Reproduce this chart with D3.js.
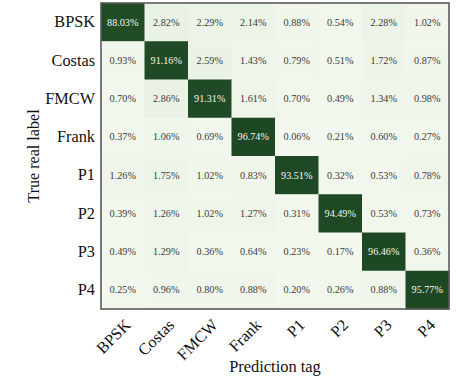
<!DOCTYPE html>
<html><head><meta charset="utf-8">
<script src="https://cdn.jsdelivr.net/npm/d3@7"></script>
<style>body{margin:0;background:#fff;}svg{display:block;} svg text{font-family:'Liberation Serif','Times New Roman',serif;}</style>
</head><body>
<svg id="chart" width="474" height="386"></svg>
<script>
const trueLabels = ["BPSK","Costas","FMCW","Frank","P1","P2","P3","P4"];
const predLabels = ["BPSK","Costas","FMCW","Frank","P1","P2","P3","P4"];
const rowBPSK   = [88.03, 2.82, 2.29, 2.14, 0.88, 0.54, 2.28, 1.02];
const rowCostas = [0.93, 91.16, 2.59, 1.43, 0.79, 0.51, 1.72, 0.87];
const rowFMCW   = [0.70, 2.86, 91.31, 1.61, 0.70, 0.49, 1.34, 0.98];
const rowFrank  = [0.37, 1.06, 0.69, 96.74, 0.06, 0.21, 0.60, 0.27];
const rowP1     = [1.26, 1.75, 1.02, 0.83, 93.51, 0.32, 0.53, 0.78];
const rowP2     = [0.39, 1.26, 1.02, 1.27, 0.31, 94.49, 0.53, 0.73];
const rowP3     = [0.49, 1.29, 0.36, 0.64, 0.23, 0.17, 96.46, 0.36];
const rowP4     = [0.25, 0.96, 0.80, 0.88, 0.20, 0.26, 0.88, 95.77];
const matrix = [rowBPSK, rowCostas, rowFMCW, rowFrank, rowP1, rowP2, rowP3, rowP4];

(function () {
const svg = d3.select("#chart");
const mLeft = 101, mRight = 449, mTop = 3, mBottom = 309;
const font = "Liberation Serif";

const x = d3.scaleBand().domain(predLabels).range([mLeft, mRight]);
const y = d3.scaleBand().domain(trueLabels).range([mTop, mBottom]);
const color = d3.scaleLinear().domain([0, 4, 60, 100]).range(["#f3f8ef", "#e6f0e1", "#2a5a2f", "#1d4622"]).clamp(true);

const cells = [];
matrix.forEach((row, i) => row.forEach((v, j) => cells.push({t: trueLabels[i], p: predLabels[j], v})));

svg.append("g").selectAll("rect").data(cells).join("rect")
  .attr("x", d => x(d.p)).attr("y", d => y(d.t))
  .attr("width", x.bandwidth() + 0.5).attr("height", y.bandwidth() + 0.5)
  .attr("fill", d => color(d.v));

svg.append("g").attr("font-family", font).selectAll("text").data(cells).join("text")
  .attr("x", d => x(d.p) + x.bandwidth() / 2)
  .attr("y", d => y(d.t) + y.bandwidth() / 2)
  .attr("dy", "0.35em")
  .attr("text-anchor", "middle")
  .attr("font-size", 10.2)
  .attr("fill", d => d.v > 50 ? "#f4f7f2" : "#3a3a3a")
  .text(d => d.v.toFixed(2) + "%");

svg.append("rect").attr("x", mLeft).attr("y", mTop)
  .attr("width", mRight - mLeft).attr("height", mBottom - mTop)
  .attr("fill", "none").attr("stroke", "#5a5a5a").attr("stroke-width", 1.6);

const yAxis = svg.append("g").attr("transform", `translate(${mLeft},0)`)
  .call(d3.axisLeft(y).tickSize(0).tickPadding(6))
  .attr("font-family", font).attr("font-size", 16.3);
yAxis.select(".domain").remove();
yAxis.selectAll("text").attr("fill", "#111");

const xAxis = svg.append("g").attr("transform", `translate(0,${mBottom})`)
  .call(d3.axisBottom(x).tickSize(0))
  .attr("font-family", font).attr("font-size", 16.3);
xAxis.select(".domain").remove();
xAxis.selectAll("text")
  .attr("fill", "#111")
  .attr("text-anchor", "end").attr("dy", null).attr("y", 0)
  .attr("transform", "translate(9,17) rotate(-45)");

svg.append("text").attr("x", (mLeft + mRight) / 2).attr("y", 372)
  .attr("text-anchor", "middle").attr("font-family", font).attr("font-size", 16.4).attr("fill", "#111")
  .text("Prediction tag");

svg.append("text").attr("transform", `translate(39,${(mTop + mBottom) / 2}) rotate(-90)`)
  .attr("text-anchor", "middle").attr("font-family", font).attr("font-size", 16.1).attr("fill", "#111")
  .text("True real label");
})();
</script>
</body></html>
